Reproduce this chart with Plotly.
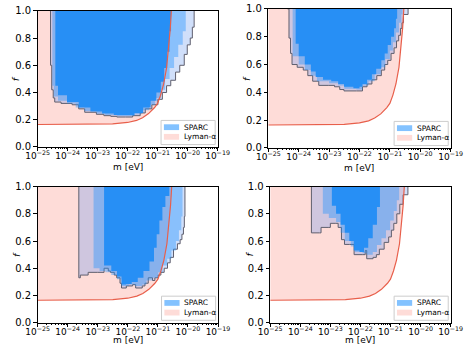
import plotly.graph_objects as go

# ---------------- data (log10 m [eV], f) ----------------
lyman_logm = [-25, -24, -23, -22.5, -22.0, -21.7, -21.5, -21.3, -21.1, -21.0, -20.9, -20.8, -20.7, -20.63, -20.58, -20.54]
lyman_f = [0.165, 0.165, 0.166, 0.17, 0.18, 0.195, 0.215, 0.245, 0.29, 0.32, 0.38, 0.46, 0.58, 0.72, 0.86, 1.0]

# Panel 1 (top-left)
p1_outer_x = [-24.59, -24.57, -24.53, -24.48, -24.43, -24.22, -23.85, -23.63, -23.43, -23.04, -22.79, -22.56, -22.36, -22.07, -21.83, -21.58, -21.41, -21.19, -20.99, -20.84, -20.70, -20.56, -20.40, -20.26, -20.11, -20.01, -19.91, -19.84, -19.78]
p1_outer_f = [1.0, 0.6, 0.42, 0.36, 0.33, 0.32, 0.31, 0.28, 0.255, 0.24, 0.23, 0.225, 0.22, 0.22, 0.23, 0.25, 0.28, 0.31, 0.35, 0.40, 0.45, 0.49, 0.55, 0.60, 0.68, 0.75, 0.80, 0.88, 1.0]
p1_mid_x = [-24.53, -24.51, -24.46, -24.32, -24.02, -23.73, -23.44, -23.04, -22.75, -22.36, -22.07, -21.77, -21.53, -21.28, -21.09, -20.89, -20.75, -20.60, -20.45, -20.31, -20.16, -20.06]
p1_mid_f = [1.0, 0.45, 0.37, 0.34, 0.32, 0.29, 0.265, 0.245, 0.235, 0.228, 0.228, 0.24, 0.27, 0.31, 0.36, 0.42, 0.50, 0.58, 0.66, 0.75, 0.85, 1.0]
p1_core_x = [-24.43, -24.41, -24.32, -24.02, -23.63, -23.24, -22.85, -22.46, -22.07, -21.77, -21.48, -21.23, -21.04, -20.89, -20.78, -20.68, -20.60, -20.55]
p1_core_f = [1.0, 0.45, 0.38, 0.33, 0.29, 0.26, 0.245, 0.235, 0.235, 0.25, 0.29, 0.34, 0.40, 0.48, 0.58, 0.70, 0.85, 1.0]

# Panel 2 (top-right)
p2_outer_x = [-24.37, -24.32, -24.27, -24.22, -24.05, -23.85, -23.7, -23.54, -23.34, -23.03, -22.82, -22.65, -22.51, -22.1, -21.9, -21.75, -21.59, -21.43, -21.28, -21.17, -21.07, -20.96, -20.86, -20.78, -20.71, -20.65, -20.6, -20.55, -20.4]
p2_outer_f = [1.0, 0.79, 0.68, 0.60, 0.58, 0.56, 0.52, 0.48, 0.45, 0.45, 0.44, 0.42, 0.41, 0.41, 0.44, 0.46, 0.49, 0.52, 0.56, 0.60, 0.63, 0.68, 0.72, 0.77, 0.81, 0.86, 0.90, 0.96, 1.0]
p2_mid_x = [-24.27, -24.2, -24.0, -23.8, -23.6, -23.4, -23.0, -22.7, -22.5, -22.1, -21.9, -21.7, -21.5, -21.3, -21.15, -21.0, -20.9, -20.8, -20.7, -20.62, -20.58]
p2_mid_f = [1.0, 0.66, 0.60, 0.56, 0.52, 0.48, 0.465, 0.45, 0.425, 0.42, 0.45, 0.48, 0.53, 0.58, 0.64, 0.70, 0.76, 0.83, 0.90, 0.96, 1.0]
p2_core_x = [-24.16, -24.1, -24.0, -23.8, -23.6, -23.44, -23.2, -22.93, -22.7, -22.51, -22.2, -22.0, -21.9, -21.75, -21.59, -21.45, -21.28, -21.17, -21.07, -20.96, -20.86, -20.8, -20.76]
p2_core_f = [1.0, 0.75, 0.66, 0.60, 0.55, 0.51, 0.49, 0.48, 0.46, 0.44, 0.43, 0.44, 0.46, 0.49, 0.53, 0.57, 0.63, 0.68, 0.74, 0.80, 0.86, 0.93, 1.0]

# Panel 3 (bottom-left)
p3_outer_x = [-23.63, -23.63, -23.58, -23.32, -23.0, -22.79, -22.65, -22.58, -22.45, -22.37, -22.26, -22.21, -22.05, -21.84, -21.74, -21.52, -21.43, -21.32, -21.18, -21.10, -20.99, -20.90, -20.79, -20.68, -20.59, -20.48, -20.35, -20.26, -20.20, -20.15, -20.12, -20.10, -20.10]
p3_outer_f = [1.0, 0.33, 0.35, 0.37, 0.37, 0.40, 0.38, 0.37, 0.35, 0.33, 0.29, 0.255, 0.27, 0.28, 0.255, 0.27, 0.29, 0.33, 0.31, 0.33, 0.35, 0.37, 0.40, 0.44, 0.48, 0.54, 0.58, 0.61, 0.65, 0.70, 0.78, 0.85, 1.0]
p3_mid_x = [-23.14, -23.14, -22.94, -22.75, -22.55, -22.36, -22.21, -21.97, -21.77, -21.52, -21.38, -21.18, -20.99, -20.84, -20.69, -20.55, -20.40, -20.30, -20.22, -20.18]
p3_mid_f = [1.0, 0.40, 0.38, 0.37, 0.35, 0.32, 0.27, 0.28, 0.27, 0.28, 0.31, 0.33, 0.37, 0.42, 0.47, 0.53, 0.60, 0.68, 0.78, 1.0]
p3_core_x = [-22.79, -22.79, -22.55, -22.36, -22.21, -22.06, -21.87, -21.67, -21.48, -21.28, -21.13, -21.04, -20.95, -20.85, -20.75, -20.62]
p3_core_f = [1.0, 0.42, 0.38, 0.34, 0.28, 0.285, 0.30, 0.33, 0.38, 0.45, 0.55, 0.65, 0.75, 0.85, 0.93, 1.0]

# Panel 4 (bottom-right)
p4_outer_x = [-23.63, -23.63, -23.36, -23.31, -23.05, -23.0, -22.84, -22.74, -22.63, -22.53, -22.37, -22.21, -21.94, -21.84, -21.79, -21.58, -21.47, -21.37, -21.21, -21.06, -20.97, -20.89, -20.79, -20.69, -20.58, -20.42]
p4_outer_f = [1.0, 0.66, 0.66, 0.70, 0.70, 0.73, 0.73, 0.70, 0.61, 0.575, 0.575, 0.50, 0.50, 0.53, 0.47, 0.48, 0.50, 0.54, 0.59, 0.63, 0.68, 0.73, 0.80, 0.87, 0.94, 1.0]
p4_mid_x = [-23.25, -23.25, -23.05, -22.81, -22.66, -22.52, -22.32, -22.18, -21.93, -21.79, -21.59, -21.45, -21.30, -21.15, -21.01, -20.89, -20.79, -20.71]
p4_mid_f = [1.0, 0.80, 0.77, 0.74, 0.66, 0.60, 0.56, 0.52, 0.51, 0.50, 0.52, 0.57, 0.62, 0.68, 0.75, 0.82, 0.90, 1.0]
p4_core_x = [-22.95, -22.95, -22.81, -22.66, -22.52, -22.37, -22.22, -22.03, -21.88, -21.74, -21.59, -21.45, -21.35]
p4_core_f = [1.0, 0.86, 0.80, 0.72, 0.66, 0.60, 0.53, 0.52, 0.55, 0.62, 0.72, 0.85, 1.0]

x_tick_exponents = [-25, -24, -23, -22, -21, -20, -19]
y_ticks = [0.0, 0.2, 0.4, 0.6, 0.8, 1.0]
legend_labels = ["SPARC", "Lyman-α"]
x_title = "m [eV]"
y_title = "<i>f</i>"

# ---------------- layout geometry (pixels) ----------------
W, H = 474, 349
panels = [
    dict(outer=(p1_outer_x, p1_outer_f), mid=(p1_mid_x, p1_mid_f), core=(p1_core_x, p1_core_f),
         xd=(27, 216.5), yd=(5, 146), ytitle=(4, 75), xtitle_y=167),
    dict(outer=(p2_outer_x, p2_outer_f), mid=(p2_mid_x, p2_mid_f), core=(p2_core_x, p2_core_f),
         xd=(270, 462), yd=(3, 147), ytitle=(247, 75), xtitle_y=168),
    dict(outer=(p3_outer_x, p3_outer_f), mid=(p3_mid_x, p3_mid_f), core=(p3_core_x, p3_core_f),
         xd=(27, 217), yd=(187, 328), ytitle=(4, 257), xtitle_y=346),
    dict(outer=(p4_outer_x, p4_outer_f), mid=(p4_mid_x, p4_mid_f), core=(p4_core_x, p4_core_f),
         xd=(272, 462), yd=(187, 328), ytitle=(250, 257), xtitle_y=346),
]

FONT = "DejaVu Sans"
PINK = "rgba(250,128,114,0.28)"
RED = "rgb(232,95,75)"
OUTER_FILL = "rgba(100,149,237,0.30)"
MID_FILL = "rgba(30,144,255,0.40)"
CORE_FILL = "rgba(30,140,245,0.92)"
OUTLINE = "rgb(95,95,110)"
LEG_SPARC = "rgba(30,144,255,0.55)"


def tolin(v):
    return [10 ** a for a in v]


def px(x):
    return x / W


def py(y):
    return 1 - y / H


fig = go.Figure()
shapes, annotations = [], []
layout = dict(width=W, height=H, margin=dict(l=0, r=0, t=0, b=0), showlegend=False,
              paper_bgcolor="white", plot_bgcolor="white",
              font=dict(family=FONT, size=10, color="black"))

for i, p in enumerate(panels):
    s = "" if i == 0 else str(i + 1)
    xr, yr = "x" + s, "y" + s
    # Lyman-alpha allowed region (pink)
    fig.add_trace(go.Scatter(x=tolin(lyman_logm + [-25]), y=lyman_f + [1.0], mode="lines",
                             fill="toself", fillcolor=PINK, line=dict(width=0),
                             name=legend_labels[1], xaxis=xr, yaxis=yr, hoverinfo="skip"))
    # SPARC layers
    for key, fc, lw in (("outer", OUTER_FILL, 1.0), ("mid", MID_FILL, 0), ("core", CORE_FILL, 0)):
        lx, lf = p[key]
        fig.add_trace(go.Scatter(x=tolin(lx), y=lf, mode="lines", fill="toself", fillcolor=fc,
                                 line=dict(width=lw, color=OUTLINE, shape="hv"),
                                 name=legend_labels[0], xaxis=xr, yaxis=yr, hoverinfo="skip"))
    # Lyman-alpha boundary line
    fig.add_trace(go.Scatter(x=tolin(lyman_logm), y=lyman_f, mode="lines",
                             line=dict(color=RED, width=1.2), name=legend_labels[1],
                             xaxis=xr, yaxis=yr, hoverinfo="skip"))

    xd = [px(p["xd"][0]), px(p["xd"][1])]
    yd = [py(p["yd"][1]), py(p["yd"][0])]
    layout["xaxis" + s] = dict(type="log", range=[-25, -19], domain=xd, anchor=yr,
                               tickvals=[10 ** e for e in x_tick_exponents],
                               ticktext=["10<sup>\u2212%d</sup>" % (-e) for e in x_tick_exponents],
                               tickangle=0, ticklabelstandoff=-3,
                               showline=True, mirror=True, linecolor="black", linewidth=1,
                               ticks="outside", ticklen=3, tickcolor="black",
                               minor=dict(ticks="outside", ticklen=1.5, tickcolor="black",
                                          tickvals=[m * 10 ** e for e in x_tick_exponents[:-1] for m in range(2, 10)]),
                               showgrid=False, zeroline=False,
                               tickfont=dict(size=9))
    layout["yaxis" + s] = dict(range=[0, 1], domain=yd, anchor=xr, tickvals=y_ticks,
                               ticktext=["%.1f" % v for v in y_ticks],
                               showline=True, mirror=True, linecolor="black", linewidth=1,
                               ticks="outside", ticklen=3.5, tickcolor="black",
                               showgrid=False, zeroline=False, tickfont=dict(size=10))
    annotations.append(dict(text=y_title, x=px(p["ytitle"][0]), y=py(p["ytitle"][1]),
                            xref="paper", yref="paper", showarrow=False, textangle=-90,
                            font=dict(size=9.5), xanchor="center", yanchor="middle"))
    annotations.append(dict(text=x_title, x=px((p["xd"][0] + p["xd"][1]) / 2), y=py(p["xtitle_y"]),
                            xref="paper", yref="paper", showarrow=False,
                            font=dict(size=9), xanchor="center", yanchor="middle"))

    # hand-drawn legend box in the lower-right corner
    R = p["xd"][1] - 2.5
    B = p["yd"][1] - 2.5
    L, T = R - 57, B - 25
    shapes.append(dict(type="rect", xref="paper", yref="paper", x0=px(L), x1=px(R), y0=py(B), y1=py(T),
                       fillcolor="rgba(255,255,255,0.85)", line=dict(color="#cccccc", width=1)))
    for k, (lab, col) in enumerate(zip(legend_labels, [LEG_SPARC, PINK])):
        cy = T + 7 + 10 * k
        shapes.append(dict(type="rect", xref="paper", yref="paper", x0=px(L + 3), x1=px(L + 19),
                           y0=py(cy + 3), y1=py(cy - 3), fillcolor=col, line=dict(width=0)))
        annotations.append(dict(text=lab, x=px(L + 22), y=py(cy), xref="paper", yref="paper",
                                showarrow=False, xanchor="left", yanchor="middle",
                                font=dict(size=7.5)))

layout["shapes"] = shapes
layout["annotations"] = annotations
fig.update_layout(**layout)
fig.write_html("out.html")
